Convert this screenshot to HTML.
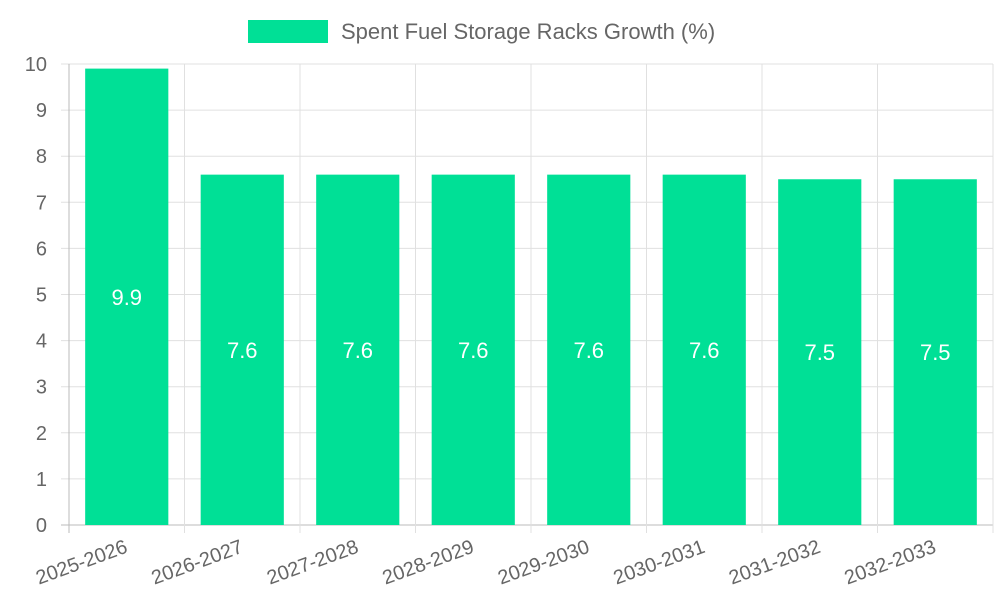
<!DOCTYPE html>
<html><head><meta charset="utf-8"><style>
html,body{margin:0;padding:0;background:#fff;width:1000px;height:600px;overflow:hidden}
svg{font-family:"Liberation Sans",sans-serif}
</style></head><body>
<svg id="chart" width="1000" height="600"></svg>
<script>
const categories=["2025-2026","2026-2027","2027-2028","2028-2029","2029-2030","2030-2031","2031-2032","2032-2033"];
const values=[9.9,7.6,7.6,7.6,7.6,7.6,7.5,7.5];
const yTicks=[0,1,2,3,4,5,6,7,8,9,10];
const seriesName="Spent Fuel Storage Racks Growth (%)";

const NS="http://www.w3.org/2000/svg";
const svg=document.getElementById('chart');
const L=69,R=993,T=64,B=525,yMax=10;
const band=(R-L)/categories.length;
const xC=i=>L+band*(i+0.5);
const y=v=>B-(v/yMax)*(B-T);
function mk(tag,attrs,parent){const e=document.createElementNS(NS,tag);for(const k in attrs)e.setAttribute(k,attrs[k]);(parent||svg).appendChild(e);return e;}

const grid=mk('g',{});


yTicks.forEach(t=>{
  const l=mk('line',{x1:L-8,x2:R,y1:y(t),y2:y(t),stroke:t===0?'#bbb':'#e0e0e0','stroke-width':1},grid);
  
  
  const tx=mk('text',{x:47,y:y(t)+7,'text-anchor':'end','font-size':20,fill:'#666'});
  tx.textContent=t;
  
  
});
for(let i=0;i<=categories.length;i++){
  const x=L+band*i;
  const l=mk('line',{x1:x,x2:x,y1:T,y2:B+8,stroke:i===0?'#bbb':'#e0e0e0','stroke-width':1},grid);
  
  
}
const bw=band*0.72;
categories.forEach((c,i)=>{
  const r=mk('rect',{x:xC(i)-bw/2,y:y(values[i]),width:bw,height:B-y(values[i]),fill:'#00e096'});
  
  
  const v=mk('text',{x:xC(i),y:(y(values[i])+B)/2+8,'text-anchor':'middle','font-size':22,fill:'#fff'});
  v.textContent=values[i];
  
  
  const tx=mk('text',{x:xC(i)+2,y:B+27,'text-anchor':'end','font-size':20,fill:'#666',transform:`rotate(-20 ${xC(i)+2} ${B+27})`});
  tx.textContent=c;
  
  
});
const lg=mk('g',{});


mk('rect',{x:248,y:20,width:80,height:23,fill:'#00e096'},lg);
const lt=mk('text',{x:341,y:39,'font-size':22,fill:'#666'},lg);
lt.textContent=seriesName;
</script>
</body></html>
